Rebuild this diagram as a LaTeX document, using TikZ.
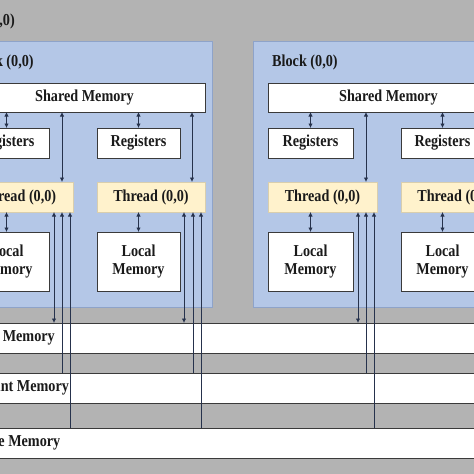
\documentclass[tikz,border=0pt]{standalone}
\usepackage{fontspec}
\setmainfont{Liberation Serif}[FakeStretch=0.85]
\usetikzlibrary{arrows.meta,calc}
\definecolor{bggray}{HTML}{B3B3B3}
\definecolor{blockblue}{HTML}{B4C7E7}
\definecolor{blockedge}{HTML}{8EA3C9}
\definecolor{threadyel}{HTML}{FFF2CC}
\definecolor{edgedark}{HTML}{3A3A3A}
\definecolor{arrnavy}{HTML}{26324C}
\definecolor{txt}{HTML}{1A1A1A}
\tikzset{
  lbl/.style={font=\fontsize{16.7}{18}\selectfont\bfseries, text=txt, inner sep=0pt},
  blockbox/.style={fill=blockblue, draw=blockedge, line width=0.8pt, anchor=north west, inner sep=0pt, outer sep=0pt},
  whitebox/.style={lbl, fill=white, draw=edgedark, line width=0.7pt, anchor=north west, outer sep=0pt, align=center},
  threadbox/.style={whitebox, fill=threadyel, draw=threadyel!85!black},
  memrow/.style={fill=white, draw=edgedark, line width=0.9pt, anchor=north west, inner sep=0pt, outer sep=0pt, minimum width=620pt, minimum height=30pt},
  dblarr/.style={draw=arrnavy, line width=0.8pt, {Latex[length=4.5pt,width=4.5pt]}-{Latex[length=4.5pt,width=4.5pt]}},
  uparr/.style={draw=arrnavy, line width=0.8pt, -{Latex[length=4.5pt,width=4.5pt]}}
}
\begin{document}
\begin{tikzpicture}[x=1pt,y=-1pt]
\useasboundingbox (0,0) rectangle (474,474);
\clip (0,0) rectangle (474,474);
\fill[bggray] (-10,-10) rectangle (484,484);

% grid label
\node[lbl, anchor=east] (gridlbl) at (15,21) {Grid (0,0)};

% memory rows
\node[memrow] (gmem) at (-80,323) {};
\node[memrow] (cmem) at (-80,373) {};
\node[memrow] (tmem) at (-80,428) {};
\node[lbl, anchor=west] (gmemL) at ([xshift=38pt]gmem.west) {Global Memory};
\node[lbl, anchor=west] (cmemL) at ([xshift=38pt]cmem.west) {Constant Memory};
\node[lbl, anchor=west] (tmemL) at ([xshift=38pt]tmem.west) {Texture Memory};

\foreach \b/\bx in {1/-51, 2/253} {
  \node[blockbox, minimum width=263pt, minimum height=266pt] (blk\b) at (\bx,41) {};
  \node[lbl, anchor=west] (blkL\b) at (\bx+19,62) {Block (0,0)};
  \node[whitebox, minimum width=241pt, minimum height=29pt] (sm\b) at (\bx+15,83) {Shared Memory};
  % registers
  \node[whitebox, minimum width=85pt, minimum height=30pt] (regA\b) at (\bx+15,128) {Registers};
  \node[whitebox, minimum width=83pt, minimum height=30pt] (regB\b) at (\bx+148,128) {Registers};
  % threads
  \node[threadbox, minimum width=109pt, minimum height=30pt] (thA\b) at (\bx+15,182) {Thread (0,0)};
  \node[threadbox, minimum width=108pt, minimum height=30pt] (thB\b) at (\bx+148,182) {Thread (0,0)};
  % local memory
  \node[whitebox, minimum width=85pt, minimum height=59pt] (locA\b) at (\bx+15,232) {Local\\Memory};
  \node[whitebox, minimum width=83pt, minimum height=59pt] (locB\b) at (\bx+148,232) {Local\\Memory};
  % shared <-> registers
  \draw[dblarr] (regA\b.north |- sm\b.south) -- (regA\b.north);
  \draw[dblarr] (regB\b.north |- sm\b.south) -- (regB\b.north);
  % shared <-> thread
  \draw[dblarr] ([xshift=-11pt]thA\b.north east |- sm\b.south) -- ([xshift=-11pt]thA\b.north east);
  \draw[dblarr] ([xshift=-13pt]thB\b.north east |- sm\b.south) -- ([xshift=-13pt]thB\b.north east);
  % thread <-> local
  \draw[dblarr] (regA\b.south |- thA\b.south) -- (locA\b.north);
  \draw[dblarr] (regB\b.south |- thB\b.south) -- (locB\b.north);
  % thread <-> global / constant / texture
  \draw[dblarr] ([xshift=-19pt]thA\b.south east) -- ([xshift=-19pt]thA\b.south east |- gmem.north);
  \draw[uparr] ([xshift=-11pt]thA\b.south east |- cmem.north) -- ([xshift=-11pt]thA\b.south east);
  \draw[uparr] ([xshift=-3pt]thA\b.south east |- tmem.north) -- ([xshift=-3pt]thA\b.south east);
  \draw[dblarr] ([xshift=-21pt]thB\b.south east) -- ([xshift=-21pt]thB\b.south east |- gmem.north);
  \draw[uparr] ([xshift=-12pt]thB\b.south east |- cmem.north) -- ([xshift=-12pt]thB\b.south east);
  \draw[uparr] ([xshift=-4pt]thB\b.south east |- tmem.north) -- ([xshift=-4pt]thB\b.south east);
}
\end{tikzpicture}
\end{document}
